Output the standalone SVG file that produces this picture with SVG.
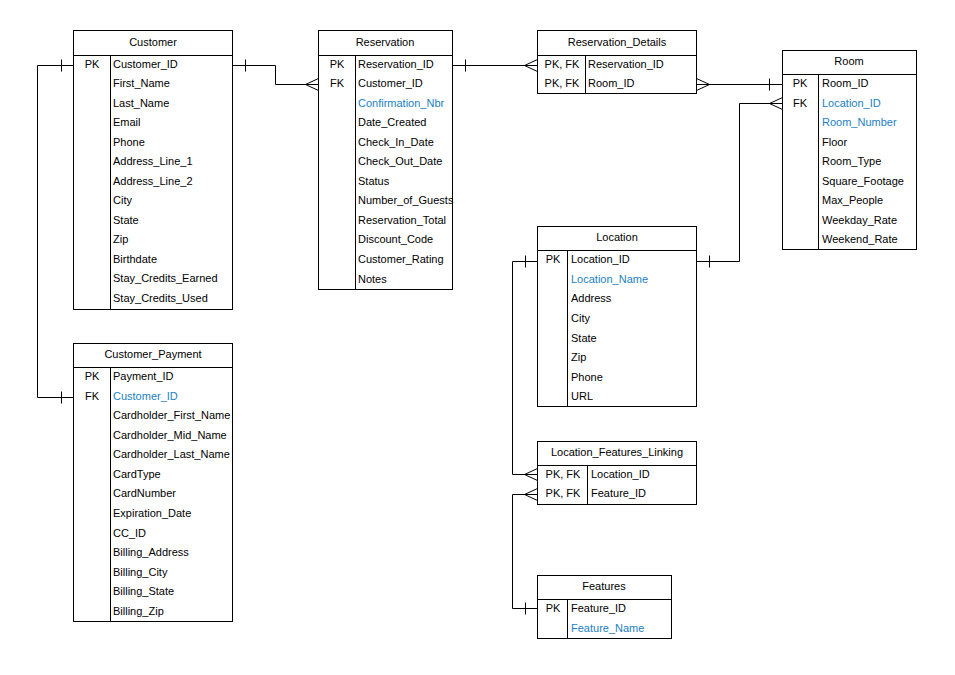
<svg xmlns="http://www.w3.org/2000/svg" width="955" height="675" viewBox="0 0 955 675">
<style>
rect{fill:#fff;stroke:#000;stroke-width:1}
line.d{stroke:#000;stroke-width:1}
text{font-family:"Liberation Sans",Arial,sans-serif;font-size:11px;fill:#000}
.h{text-anchor:middle}
.k{text-anchor:middle}
.b{fill:#1b7fc4}
.c path{fill:none;stroke:#000;stroke-width:1}
</style>
<rect x="0" y="0" width="955" height="675" style="stroke:none"/>
<g id="Customer">
<rect x="73.5" y="30.5" width="159" height="279"/><line class="d" x1="73.5" y1="55.5" x2="232.5" y2="55.5"/><line class="d" x1="110.5" y1="55.5" x2="110.5" y2="309.5"/>
<text class="h" x="153" y="46">Customer</text><text class="k" x="92" y="68">PK</text>
<text x="113" y="68">Customer_ID</text><text x="113" y="87">First_Name</text><text x="113" y="107">Last_Name</text><text x="113" y="126">Email</text><text x="113" y="146">Phone</text><text x="113" y="165">Address_Line_1</text><text x="113" y="185">Address_Line_2</text><text x="113" y="204">City</text><text x="113" y="224">State</text><text x="113" y="243">Zip</text><text x="113" y="263">Birthdate</text><text x="113" y="282">Stay_Credits_Earned</text><text x="113" y="302">Stay_Credits_Used</text>
</g>
<g id="Reservation">
<rect x="318.5" y="30.5" width="134" height="259"/><line class="d" x1="318.5" y1="55.5" x2="452.5" y2="55.5"/><line class="d" x1="355.5" y1="55.5" x2="355.5" y2="289.5"/>
<text class="h" x="385" y="46">Reservation</text><text class="k" x="337" y="68">PK</text><text class="k" x="337" y="87">FK</text>
<text x="358" y="68">Reservation_ID</text><text x="358" y="87">Customer_ID</text><text x="358" y="107" class="b">Confirmation_Nbr</text><text x="358" y="126">Date_Created</text><text x="358" y="146">Check_In_Date</text><text x="358" y="165">Check_Out_Date</text><text x="358" y="185">Status</text><text x="358" y="204">Number_of_Guests</text><text x="358" y="224">Reservation_Total</text><text x="358" y="243">Discount_Code</text><text x="358" y="263">Customer_Rating</text><text x="358" y="283">Notes</text>
</g>
<g id="Reservation_Details">
<rect x="537.5" y="30.5" width="159" height="63"/><line class="d" x1="537.5" y1="55.5" x2="696.5" y2="55.5"/><line class="d" x1="585.5" y1="55.5" x2="585.5" y2="93.5"/>
<text class="h" x="617" y="46">Reservation_Details</text><text class="k" x="562" y="68">PK, FK</text><text class="k" x="562" y="87">PK, FK</text>
<text x="588" y="68">Reservation_ID</text><text x="588" y="87">Room_ID</text>
</g>
<g id="Room">
<rect x="782.5" y="50.5" width="134" height="199"/><line class="d" x1="782.5" y1="74.5" x2="916.5" y2="74.5"/><line class="d" x1="818.5" y1="74.5" x2="818.5" y2="249.5"/>
<text class="h" x="849" y="65">Room</text><text class="k" x="800" y="87">PK</text><text class="k" x="800" y="107">FK</text>
<text x="822" y="87">Room_ID</text><text x="822" y="107" class="b">Location_ID</text><text x="822" y="126" class="b">Room_Number</text><text x="822" y="146">Floor</text><text x="822" y="165">Room_Type</text><text x="822" y="185">Square_Footage</text><text x="822" y="204">Max_People</text><text x="822" y="224">Weekday_Rate</text><text x="822" y="243">Weekend_Rate</text>
</g>
<g id="Location">
<rect x="537.5" y="226.5" width="159" height="180"/><line class="d" x1="537.5" y1="250.5" x2="696.5" y2="250.5"/><line class="d" x1="567.5" y1="250.5" x2="567.5" y2="406.5"/>
<text class="h" x="617" y="241">Location</text><text class="k" x="553" y="263">PK</text>
<text x="571" y="263">Location_ID</text><text x="571" y="283" class="b">Location_Name</text><text x="571" y="302">Address</text><text x="571" y="322">City</text><text x="571" y="342">State</text><text x="571" y="361">Zip</text><text x="571" y="381">Phone</text><text x="571" y="400">URL</text>
</g>
<g id="Customer_Payment">
<rect x="73.5" y="343.5" width="159" height="278"/><line class="d" x1="73.5" y1="367.5" x2="232.5" y2="367.5"/><line class="d" x1="110.5" y1="367.5" x2="110.5" y2="621.5"/>
<text class="h" x="153" y="358">Customer_Payment</text><text class="k" x="92" y="380">PK</text><text class="k" x="92" y="400">FK</text>
<text x="113" y="380">Payment_ID</text><text x="113" y="400" class="b">Customer_ID</text><text x="113" y="419">Cardholder_First_Name</text><text x="113" y="439">Cardholder_Mid_Name</text><text x="113" y="458">Cardholder_Last_Name</text><text x="113" y="478">CardType</text><text x="113" y="497">CardNumber</text><text x="113" y="517">Expiration_Date</text><text x="113" y="537">CC_ID</text><text x="113" y="556">Billing_Address</text><text x="113" y="576">Billing_City</text><text x="113" y="595">Billing_State</text><text x="113" y="615">Billing_Zip</text>
</g>
<g id="Location_Features_Linking">
<rect x="537.5" y="441.5" width="159" height="63"/><line class="d" x1="537.5" y1="465.5" x2="696.5" y2="465.5"/><line class="d" x1="587.5" y1="465.5" x2="587.5" y2="504.5"/>
<text class="h" x="617" y="456">Location_Features_Linking</text><text class="k" x="563" y="478">PK, FK</text><text class="k" x="563" y="497">PK, FK</text>
<text x="591" y="478">Location_ID</text><text x="591" y="497">Feature_ID</text>
</g>
<g id="Features">
<rect x="537.5" y="575.5" width="134" height="63"/><line class="d" x1="537.5" y1="599.5" x2="671.5" y2="599.5"/><line class="d" x1="567.5" y1="599.5" x2="567.5" y2="638.5"/>
<text class="h" x="604" y="590">Features</text><text class="k" x="553" y="612">PK</text>
<text x="571" y="612">Feature_ID</text><text x="571" y="632" class="b">Feature_Name</text>
</g>
<g id="connectors" class="c">
<path d="M232.5 65.5H275.5V84.5H318.5M245.5 59.5V71.5M305.5 84.5L318.5 78.5M305.5 84.5L318.5 90.5"/>
<path d="M73.5 65.5H37.5V397.5H73.5M61.5 59.5V71.5M61.5 391.5V403.5"/>
<path d="M452.5 65.5H537.5M465.5 59.5V71.5M524.5 65.5L537.5 59.5M524.5 65.5L537.5 71.5"/>
<path d="M696.5 84.5H782.5M769.5 78.5V90.5M709.5 84.5L696.5 78.5M709.5 84.5L696.5 90.5"/>
<path d="M696.5 261.5H739.5V103.5H782.5M709.5 255.5V267.5M769.5 103.5L782.5 97.5M769.5 103.5L782.5 109.5"/>
<path d="M537.5 261.5H512.5V474.5H537.5M525.5 255.5V267.5M524.5 474.5L537.5 468.5M524.5 474.5L537.5 480.5"/>
<path d="M537.5 608.5H512.5V494.5H537.5M525.5 602.5V614.5M524.5 494.5L537.5 488.5M524.5 494.5L537.5 500.5"/>
</g>
</svg>
